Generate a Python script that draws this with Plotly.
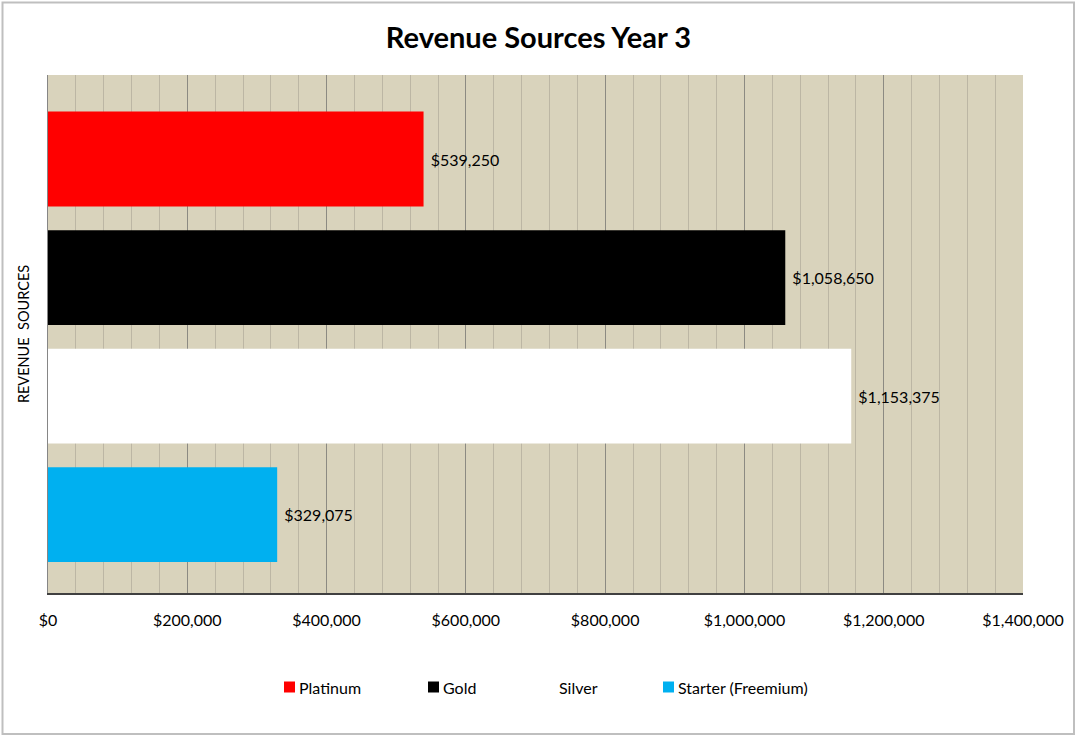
import plotly.graph_objects as go

categories = ["Platinum", "Gold", "Silver", "Starter (Freemium)"]
values = [539250, 1058650, 1153375, 329075]
colors = ["#FF0000", "#000000", "#FFFFFF", "#00B0F0"]
tick_vals = [0, 200000, 400000, 600000, 800000, 1000000, 1200000, 1400000]
tick_text = ["$0", "$200,000", "$400,000", "$600,000", "$800,000",
             "$1,000,000", "$1,200,000", "$1,400,000"]

# legend marker left edges (pixels) - layout only
legend_px = [284, 428, 544, 663]

FONT = "Lato"
L, T, W, H = 48, 75, 975, 518


def px2x(px):
    return (px - L) / W


def py2y(py):
    return (T + H - py) / H


fig = go.Figure()
for name, val, col in zip(categories, values, colors):
    fig.add_trace(go.Bar(
        x=[val], y=[name], name=name, orientation="h",
        marker=dict(color=col, line=dict(width=0)),
        width=0.8,
        text=[f"&nbsp;${val:,.0f}"], textposition="outside",
        textfont=dict(family=FONT, size=16, color="#000000"),
        cliponaxis=False, showlegend=False,
    ))

fig.update_layout(
    width=1077, height=737,
    margin=dict(l=L, r=1077 - L - W, t=T, b=737 - T - H),
    paper_bgcolor="#FFFFFF",
    plot_bgcolor="#D9D3BC",
    barmode="overlay",
    showlegend=False,
    title=dict(text="<b>Revenue Sources Year 3</b>", x=0.5, xanchor="center",
               y=1 - 38 / 737, yanchor="middle",
               font=dict(family=FONT, size=29, color="#000000")),
    font=dict(family=FONT, color="#000000"),
)

fig.update_xaxes(
    range=[0, 1400000], tickvals=tick_vals, ticktext=tick_text,
    tickfont=dict(family=FONT, size=16, color="#000000"),
    ticklabelstandoff=12,
    showgrid=True, gridcolor="#8C8A82", gridwidth=1,
    minor=dict(dtick=40000, showgrid=True, gridcolor="#BCB6A4", gridwidth=1),
    showline=True, linecolor="#404040", linewidth=2,
    zeroline=False, ticks="", ticklen=0, fixedrange=True,
)
fig.update_yaxes(
    categoryorder="array", categoryarray=list(reversed(categories)),
    range=[-0.662, 3.709], showticklabels=False, showgrid=False,
    showline=True, linecolor="#868686", linewidth=1, ticks="",
    title=dict(text="REVENUE&nbsp; SOURCES", standoff=13,
               font=dict(family=FONT, size=14.5, color="#000000")),
    fixedrange=True,
)

# manual legend (Excel-style spacing)
for name, col, lx in zip(categories, colors, legend_px):
    fig.add_shape(type="rect", xref="paper", yref="paper",
                  x0=px2x(lx), x1=px2x(lx + 11), y0=py2y(692.5), y1=py2y(681.5),
                  fillcolor=col, line=dict(width=0))
    fig.add_annotation(text=name, xref="paper", yref="paper",
                       x=px2x(lx + 13), y=py2y(687), xanchor="left", yanchor="middle",
                       showarrow=False, font=dict(family=FONT, size=16, color="#000000"))

# outer chart border
fig.add_shape(type="rect", xref="paper", yref="paper",
              x0=px2x(2.5), x1=px2x(1074),
              y0=py2y(734), y1=py2y(2.5),
              line=dict(color="#BFBFBF", width=2), fillcolor="rgba(0,0,0,0)", layer="below")

fig.write_html("out.html")
